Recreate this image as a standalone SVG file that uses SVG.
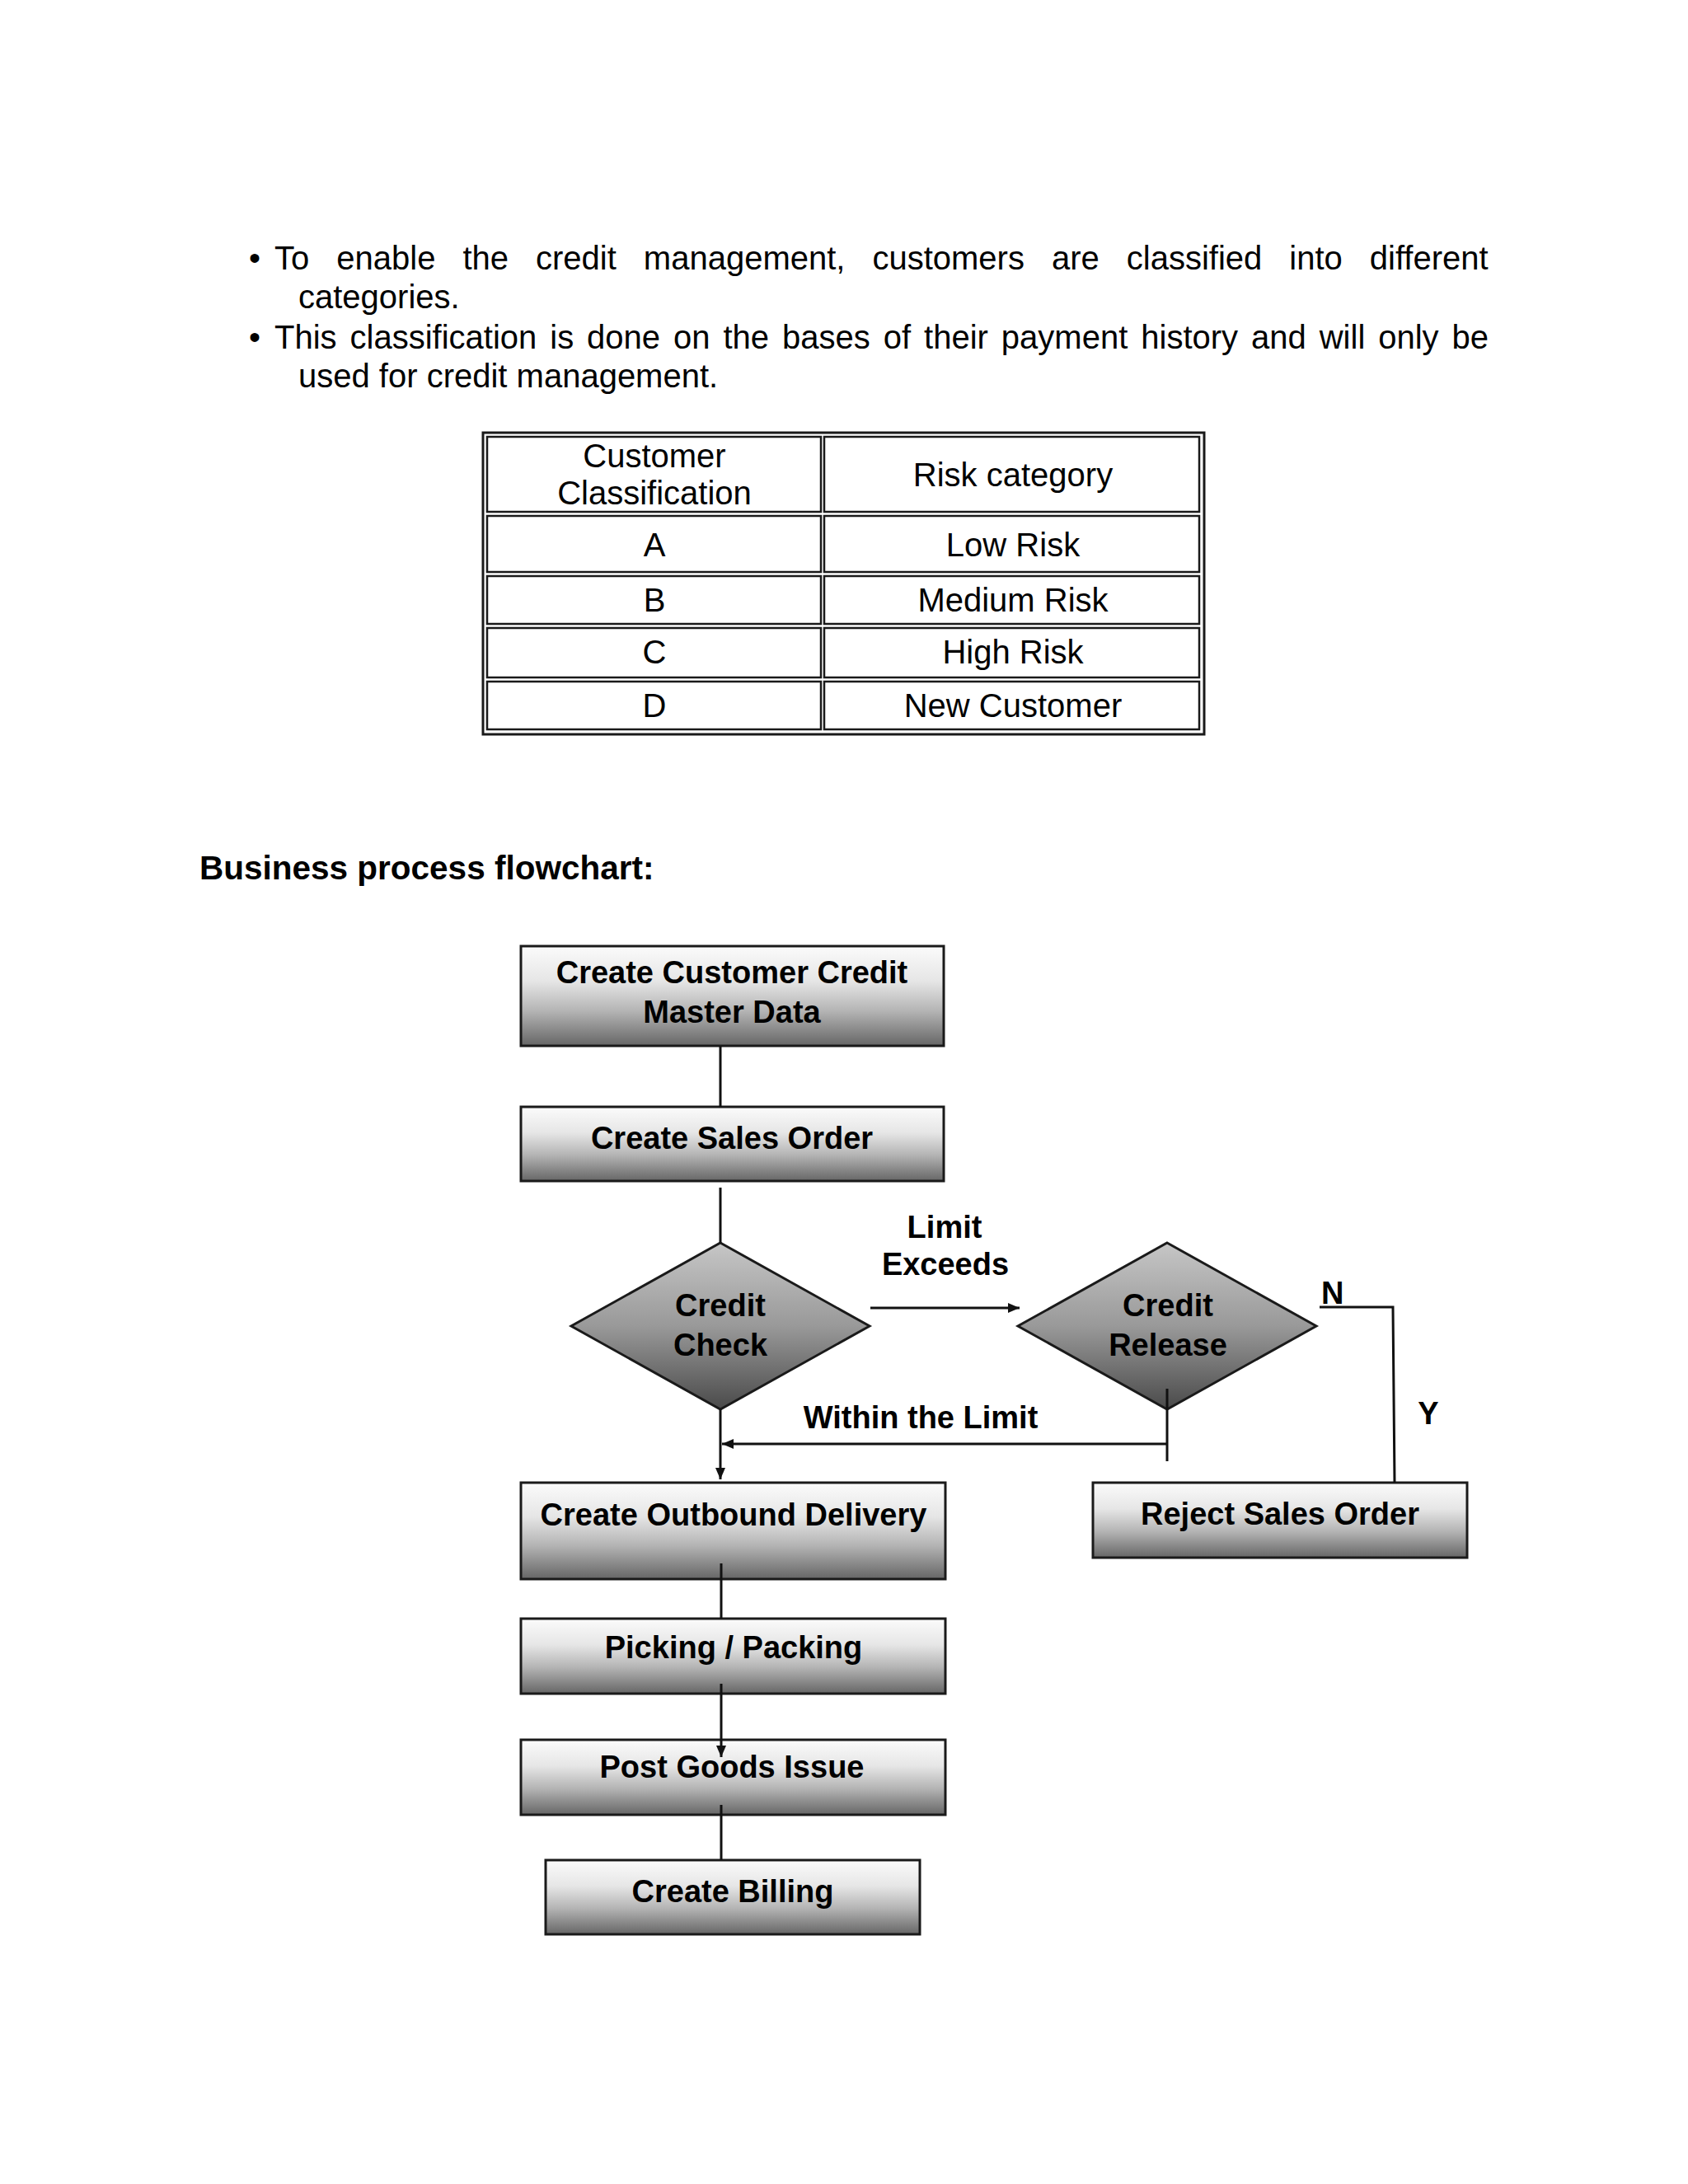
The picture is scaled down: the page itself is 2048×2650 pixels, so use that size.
<svg xmlns="http://www.w3.org/2000/svg" width="2048" height="2650" viewBox="0 0 2048 2650">
<style>
text{font-family:"Liberation Sans",Arial,sans-serif;fill:#000}
.body{font-size:40px}
.cell{font-size:40px;text-anchor:middle}
.b{font-size:38px;font-weight:bold}
.lbl{font-size:38px;font-weight:bold;text-anchor:middle}
.box{fill:url(#gBox);stroke:#1a1a1a;stroke-width:3}
.dia{fill:url(#gDia);stroke:#1a1a1a;stroke-width:3}
.cellr{fill:#fff;stroke:#1a1a1a;stroke-width:2.5}
.con{fill:none;stroke:#111;stroke-width:3}
</style>
<defs>
<linearGradient id="gBox" x1="0" y1="0" x2="0" y2="1">
<stop offset="0" stop-color="#fbfbfb"/>
<stop offset="0.35" stop-color="#e6e6e6"/>
<stop offset="0.65" stop-color="#b4b4b4"/>
<stop offset="1" stop-color="#666"/>
</linearGradient>
<linearGradient id="gDia" x1="0" y1="0" x2="0" y2="1">
<stop offset="0" stop-color="#c6c6c6"/>
<stop offset="0.5" stop-color="#999"/>
<stop offset="1" stop-color="#4a4a4a"/>
</linearGradient>
<marker id="arr" markerUnits="userSpaceOnUse" markerWidth="14" markerHeight="12" refX="14" refY="6" orient="auto">
<path d="M0,0 L14,6 L0,12 z" fill="#111"/>
</marker>
</defs>
<rect width="2048" height="2650" fill="#fff"/>

<g id="intro">
<text class="body" x="302" y="327">•</text>
<text class="body" x="333" y="327" word-spacing="21.9">To enable the credit management, customers are classified into different</text>
<text class="body" x="362" y="374">categories.</text>
<text class="body" x="302" y="423">•</text>
<text class="body" x="333" y="423" word-spacing="4.85">This classification is done on the bases of their payment history and will only be</text>
<text class="body" x="362" y="470">used for credit management.</text>
</g>

<g id="table">
<rect x="586" y="525" width="875" height="366" fill="#fff" stroke="#1a1a1a" stroke-width="3"/>
<rect class="cellr" x="591" y="530" width="405" height="91"/>
<rect class="cellr" x="1000" y="530" width="455" height="91"/>
<rect class="cellr" x="591" y="626" width="405" height="68"/>
<rect class="cellr" x="1000" y="626" width="455" height="68"/>
<rect class="cellr" x="591" y="699" width="405" height="58"/>
<rect class="cellr" x="1000" y="699" width="455" height="58"/>
<rect class="cellr" x="591" y="762" width="405" height="60"/>
<rect class="cellr" x="1000" y="762" width="455" height="60"/>
<rect class="cellr" x="591" y="827" width="405" height="58"/>
<rect class="cellr" x="1000" y="827" width="455" height="58"/>
<text class="cell" x="794" y="567">Customer</text>
<text class="cell" x="794" y="612">Classification</text>
<text class="cell" x="1229" y="590">Risk category</text>
<text class="cell" x="794" y="675">A</text>
<text class="cell" x="1229" y="675">Low Risk</text>
<text class="cell" x="794" y="742">B</text>
<text class="cell" x="1229" y="742">Medium Risk</text>
<text class="cell" x="794" y="805">C</text>
<text class="cell" x="1229" y="805">High Risk</text>
<text class="cell" x="794" y="870">D</text>
<text class="cell" x="1229" y="870">New Customer</text>
</g>

<text id="heading" x="242" y="1067" style="font-size:40.5px;font-weight:bold">Business process flowchart:</text>

<g id="n-master">
<rect class="box" x="632" y="1148" width="513" height="121"/>
<text class="lbl" x="888" y="1193">Create Customer Credit</text>
<text class="lbl" x="888" y="1241">Master Data</text>
</g>
<g id="n-salesorder">
<rect class="box" x="632" y="1343" width="513" height="90"/>
<text class="lbl" x="888" y="1394">Create Sales Order</text>
</g>
<g id="n-creditcheck">
<polygon class="dia" points="874,1508 1055,1609 874,1710 693,1609"/>
<text class="lbl" x="874" y="1597">Credit</text>
<text class="lbl" x="874" y="1645">Check</text>
</g>
<g id="n-creditrelease">
<polygon class="dia" points="1416,1508 1597,1609 1416,1710 1235,1609"/>
<text class="lbl" x="1417" y="1597">Credit</text>
<text class="lbl" x="1417" y="1645">Release</text>
</g>
<g id="n-outbound">
<rect class="box" x="632" y="1799" width="515" height="117"/>
<text class="lbl" x="890" y="1851">Create Outbound Delivery</text>
</g>
<g id="n-reject">
<rect class="box" x="1326" y="1799" width="454" height="91"/>
<text class="lbl" x="1553" y="1850">Reject Sales Order</text>
</g>
<g id="n-picking">
<rect class="box" x="632" y="1964" width="515" height="91"/>
<text class="lbl" x="890" y="2012">Picking / Packing</text>
</g>
<g id="n-pgi">
<rect class="box" x="632" y="2111" width="515" height="91"/>
<text class="lbl" x="888" y="2157">Post Goods Issue</text>
</g>
<g id="n-billing">
<rect class="box" x="662" y="2257" width="454" height="90"/>
<text class="lbl" x="889" y="2308">Create Billing</text>
</g>

<g id="connectors">
<line class="con" x1="874" y1="1269" x2="874" y2="1343"/>
<line class="con" x1="874" y1="1441" x2="874" y2="1508"/>
<line class="con" x1="1056" y1="1587" x2="1237" y2="1587" marker-end="url(#arr)"/>
<polyline class="con" points="1601,1586 1690,1586 1692,1799"/>
<line class="con" x1="1416" y1="1685" x2="1416" y2="1773"/>
<line class="con" x1="1416" y1="1752" x2="876" y2="1752" marker-end="url(#arr)"/>
<line class="con" x1="874" y1="1710" x2="874" y2="1795" marker-end="url(#arr)"/>
<line class="con" x1="875" y1="1897" x2="875" y2="1964"/>
<line class="con" x1="875" y1="2043" x2="875" y2="2132" marker-end="url(#arr)"/>
<line class="con" x1="875" y1="2190" x2="875" y2="2257"/>
<text class="lbl" x="1146" y="1502">Limit</text>
<text class="lbl" x="1147" y="1547">Exceeds</text>
<text class="b" x="1603" y="1582">N</text>
<text class="lbl" x="1733" y="1728">Y</text>
<text class="lbl" x="1117" y="1733">Within the Limit</text>
</g>
</svg>
